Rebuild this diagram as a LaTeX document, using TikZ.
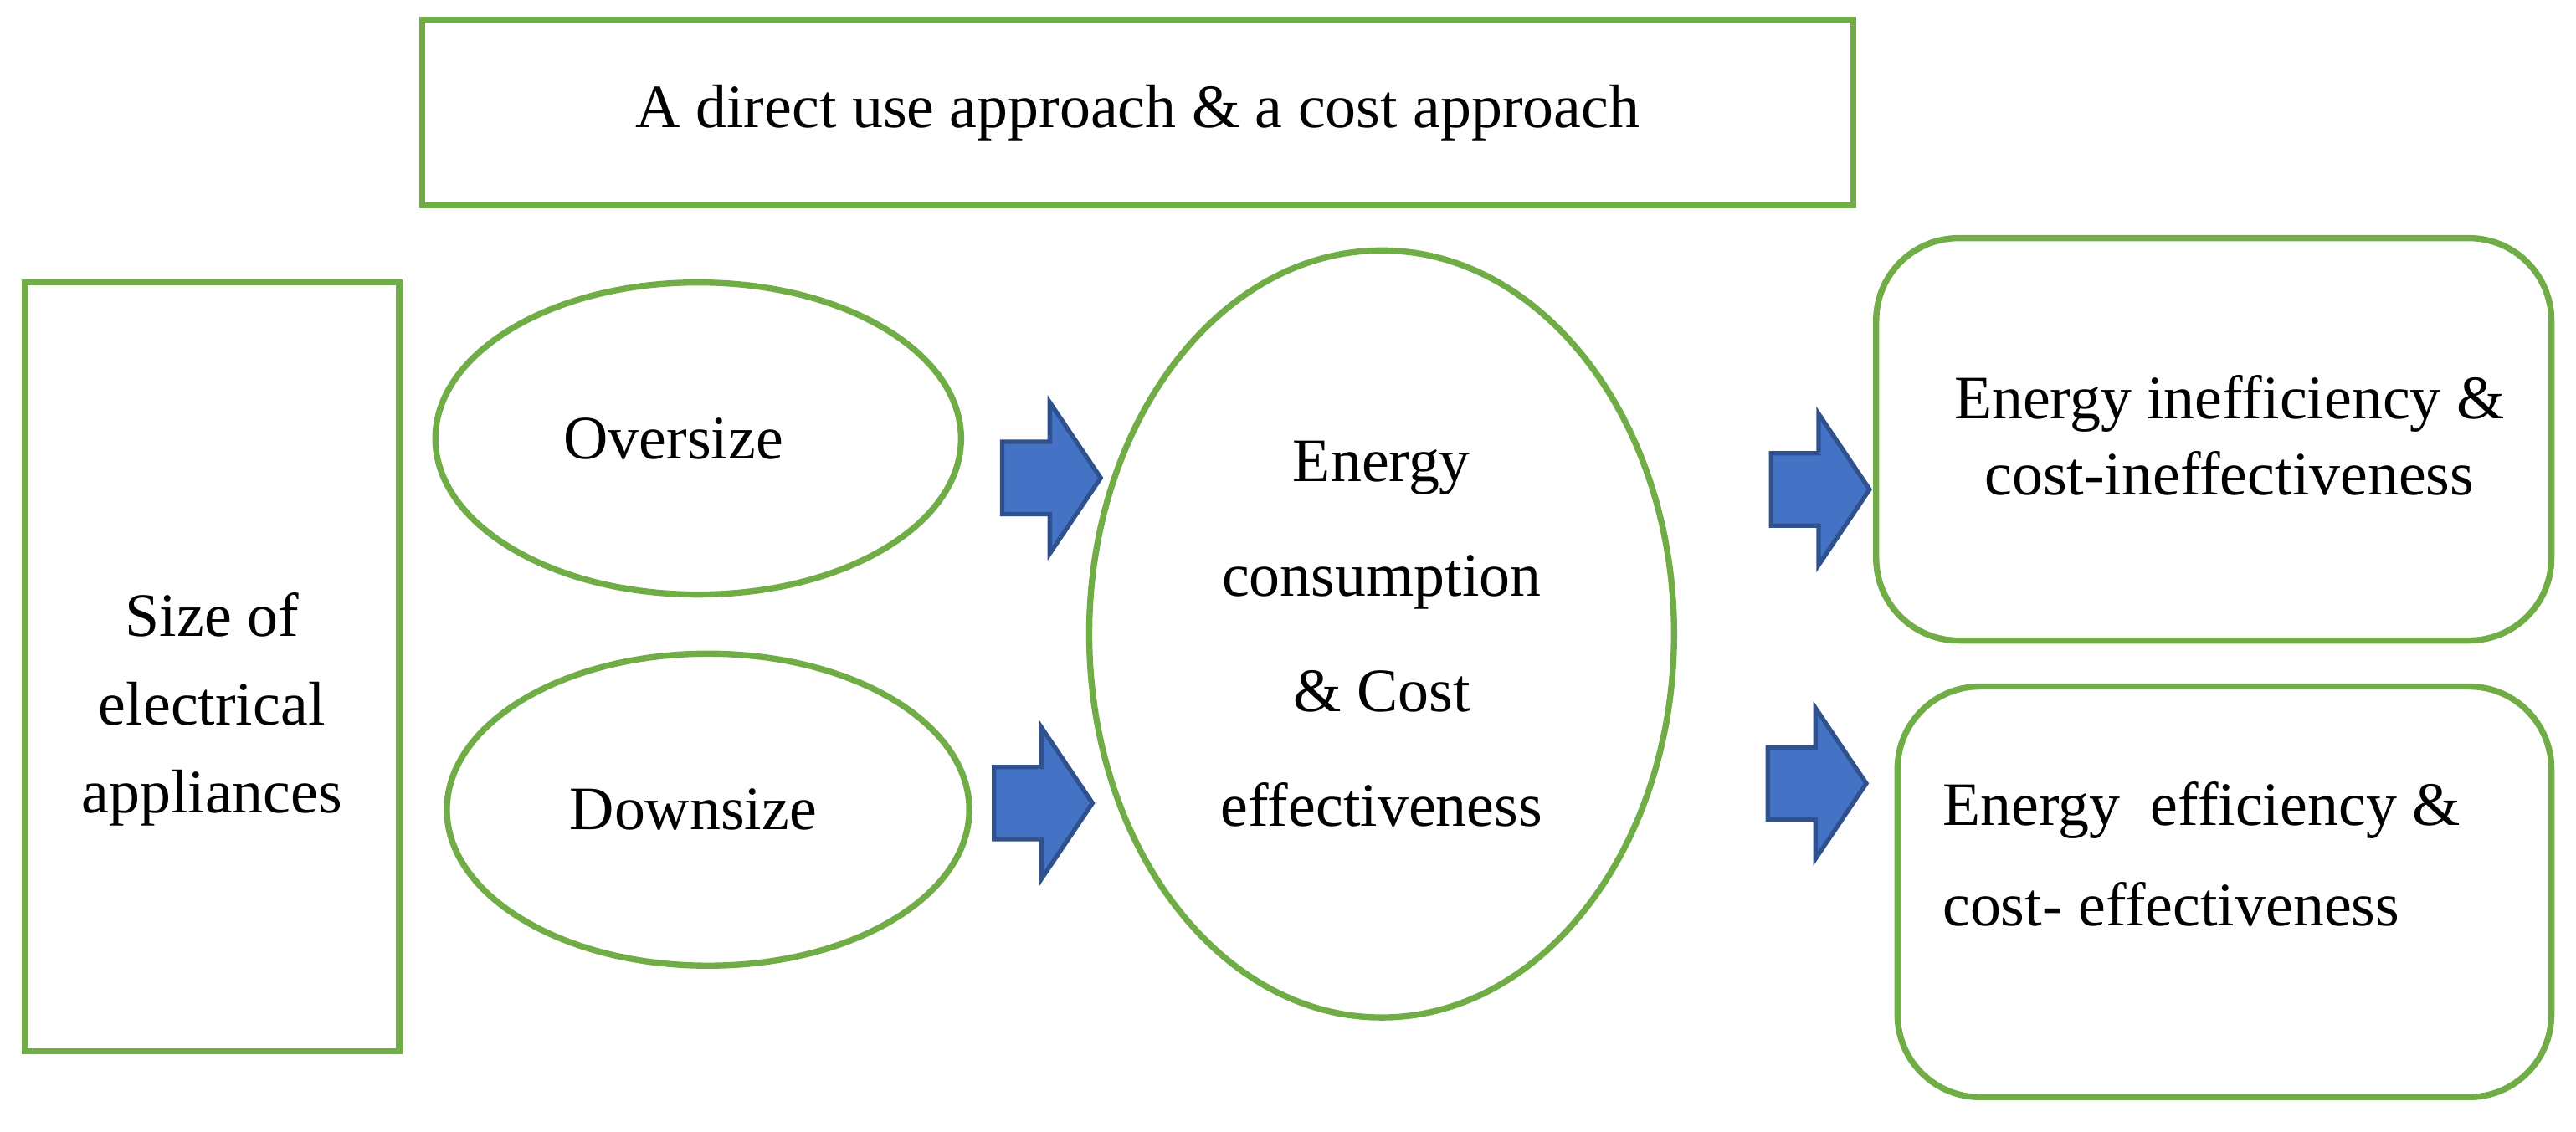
\documentclass[tikz,border=0pt]{standalone}
\usepackage{fontspec}
\setmainfont{Liberation Serif}
\usetikzlibrary{shapes.geometric}
\definecolor{grn}{HTML}{70AD47}
\definecolor{blu}{HTML}{4472C4}
\definecolor{bludk}{HTML}{2F528F}
\tikzset{
  gbox/.style={draw=grn,line width=2.1pt,align=center,font=\fontsize{21}{28}\selectfont},
  bigarrow/.style={fill=blu,draw=bludk,line width=1.5pt,line join=miter}
}
\newcommand{\blockarrow}[3]{% x, y center, name
  \draw[bigarrow] (#1,#2-22) -- ++(29,0) -- ++(0,-24) -- ++(31,46) -- ++(-31,46) -- ++(0,-24) -- ++(-29,0) -- cycle;
  \coordinate (#3) at (#1+30,#2);
}
\begin{document}
\begin{tikzpicture}[x=0.01963cm,y=-0.01963cm]
\useasboundingbox (0,0) rectangle (1568,689);
\node[gbox,minimum width=871*0.01963cm,minimum height=113*0.01963cm] (top) at (692.5,68.5) {A direct use approach \& a cost approach};
\node[gbox,minimum width=228*0.01963cm,minimum height=468*0.01963cm] (size) at (129,406) {};
\node[font=\fontsize{21}{30}\selectfont,align=center] at (129,432) {Size of\\electrical\\appliances};
\node[gbox,ellipse,minimum width=320*0.01963cm,minimum height=190*0.01963cm] (over) at (425,267) {};
\node at (410,267) [font=\fontsize{21}{28}\selectfont] {Oversize};
\node[gbox,ellipse,minimum width=318*0.01963cm,minimum height=190*0.01963cm] (down) at (431,493) {};
\node at (422,493) [font=\fontsize{21}{28}\selectfont] {Downsize};
\node[gbox,ellipse,inner sep=0pt,minimum width=356*0.01963cm,minimum height=467*0.01963cm,font=\fontsize{21}{39}\selectfont] (circ) at (841,386) {Energy\\consumption\\\& Cost\\effectiveness};
\node[gbox,rounded corners=28pt,minimum width=411*0.01963cm,minimum height=245*0.01963cm] (r1) at (1347.5,267.5) {};
\node[font=\fontsize{21}{26}\selectfont,align=center] at (1357,265) {Energy inefficiency \&\\cost-ineffectiveness};
\node[gbox,rounded corners=28pt,minimum width=398*0.01963cm,minimum height=250*0.01963cm] (r2) at (1354,543) {};
\node[font=\fontsize{21}{34}\selectfont,align=left] at (1340,520) {Energy\ \ efficiency \&\\cost- effectiveness};
\blockarrow{610}{291}{a1}
\blockarrow{605}{489}{a2}
\blockarrow{1078}{298}{a3}
\blockarrow{1076}{477}{a4}
\end{tikzpicture}
\end{document}
